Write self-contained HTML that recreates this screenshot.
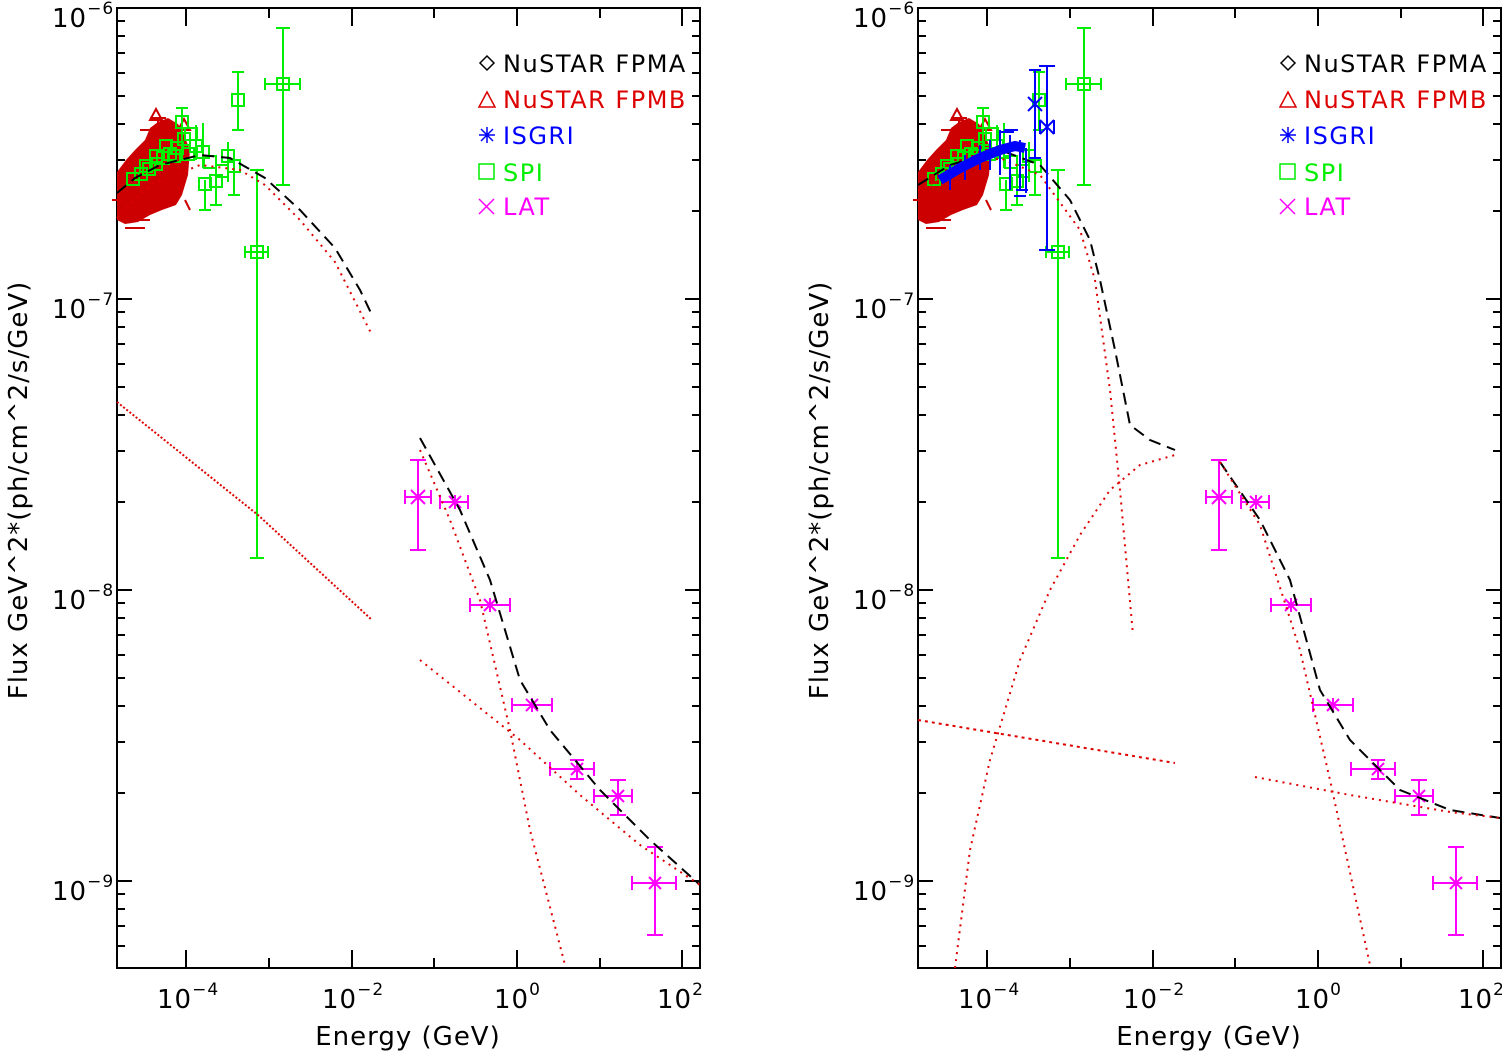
<!DOCTYPE html>
<html><head><meta charset="utf-8"><style>
body{margin:0;background:#fff;}
svg{display:block;font-family:"DejaVu Sans","Liberation Sans",sans-serif;}
</style></head><body>
<svg width="1502" height="1052" viewBox="0 0 1502 1052" xmlns="http://www.w3.org/2000/svg">
<defs>
<g id="axes">
<rect x="117" y="8" width="583" height="960" fill="none" stroke="#000" stroke-width="2"/>
<g stroke="#000" stroke-width="2">
<path d="M117 8h15M117 299h15M117 590h15M117 881h15M700 8h-15M700 299h-15M700 590h-15M700 881h-15"/>
<path d="M117 21h8M117 36h8M117 53h8M117 73h8M117 96h8M117 124h8M117 160h8M117 211h8M117 312h8M117 327h8M117 344h8M117 364h8M117 387h8M117 415h8M117 451h8M117 502h8M117 603h8M117 618h8M117 635h8M117 655h8M117 678h8M117 706h8M117 742h8M117 793h8M117 894h8M117 909h8M117 926h8M117 946h8"/>
<path d="M700 21h-8M700 36h-8M700 53h-8M700 73h-8M700 96h-8M700 124h-8M700 160h-8M700 211h-8M700 312h-8M700 327h-8M700 344h-8M700 364h-8M700 387h-8M700 415h-8M700 451h-8M700 502h-8M700 603h-8M700 618h-8M700 635h-8M700 655h-8M700 678h-8M700 706h-8M700 742h-8M700 793h-8M700 894h-8M700 909h-8M700 926h-8M700 946h-8"/>
<path d="M186 968v-18M352 968v-18M517 968v-18M682 968v-18M269 968v-10M434 968v-10M600 968v-10"/>
<path d="M186 8v18M352 8v18M517 8v18M682 8v18M269 8v10M434 8v10M600 8v10"/>
</g>
<g font-size="26" fill="#000" letter-spacing="1">
<text x="52" y="27">10<tspan font-size="17" dy="-13">−6</tspan></text>
<text x="52" y="318">10<tspan font-size="17" dy="-13">−7</tspan></text>
<text x="52" y="609">10<tspan font-size="17" dy="-13">−8</tspan></text>
<text x="52" y="900">10<tspan font-size="17" dy="-13">−9</tspan></text>
<text x="157" y="1008">10<tspan font-size="17" dy="-13">−4</tspan></text>
<text x="322" y="1008">10<tspan font-size="17" dy="-13">−2</tspan></text>
<text x="494" y="1008">10<tspan font-size="17" dy="-13">0</tspan></text>
<text x="657" y="1008">10<tspan font-size="17" dy="-13">2</tspan></text>
<text x="408" y="1045" text-anchor="middle">Energy (GeV)</text>
<text transform="translate(27,490) rotate(-90)" text-anchor="middle">Flux  GeV^2*(ph/cm^2/s/GeV)</text>
</g>
<g font-size="24" letter-spacing="1.5">
<path d="M480 63l7-7 7 7-7 7z" fill="none" stroke="#000" stroke-width="1.5"/>
<text x="503" y="72" fill="#000">NuSTAR  FPMA</text>
<path d="M479 107l8-15 8 15z" fill="none" stroke="#d00" stroke-width="1.5"/>
<text x="503" y="108" fill="#d00">NuSTAR  FPMB</text>
<path d="M487 127v16M479 135h16M481 129l12 12M493 129l-12 12" stroke="#00f" stroke-width="1.5"/>
<text x="503" y="144" fill="#00f">ISGRI</text>
<rect x="479" y="164" width="15" height="15" fill="none" stroke="#0e0" stroke-width="1.5"/>
<text x="503" y="181" fill="#0e0">SPI</text>
<path d="M479 199l15 15M494 199l-15 15" stroke="#f0f" stroke-width="1.5"/>
<text x="503" y="215" fill="#f0f">LAT</text>
</g>
<path d="M117 172L126 160L135 150L145 140L150 128L158 122L168 118L178 124L184 135L190 150L188 175L182 195L176 205L162 210L150 215L138 222L125 224L117 220Z" fill="#c00"/>
<g stroke="#c00" stroke-width="2" fill="none">
<path d="M158 118v30M150 118h16M120 220h30M125 228h20M168 140v50M160 190h16M140 130h28M170 175l5-10 5 10zM178 130l6-11 6 11zM155 135l6-11 6 11zM150 120l6-11 6 11zM112 200h10M185 200l5 10"/>
</g>
<g stroke="#f0f" stroke-width="2" fill="none">
<path d="M418 460v90M410 460h16M410 550h16M405 497h26M405 490v14M431 490v14M411 490l14 14M425 490l-14 14"/>
<path d="M455 495v14M440 502h28M440 495v14M468 495v14M449 496l12 12M461 496l-12 12"/>
<path d="M490 598v14M470 605h40M470 598v14M510 598v14M484 599l12 12M496 599l-12 12"/>
<path d="M532 698v14M512 705h40M512 698v14M552 698v14M526 699l12 12M538 699l-12 12"/>
<path d="M577 760v19M550 769h44M550 762v14M594 762v14M571 763l12 12M583 763l-12 12M570 760h14M570 779h14"/>
<path d="M618 780v35M594 796h38M594 789v14M632 789v14M612 790l12 12M624 790l-12 12M610 780h16M610 815h16"/>
<path d="M655 847v88M632 883h44M632 876v14M676 876v14M649 877l12 12M661 877l-12 12M647 847h16M647 935h16"/>
</g>
<g stroke="#0e0" stroke-width="2" fill="none">
<path d="M127 173h12v12h-12zM135 168h12v12h-12zM143 163h12v12h-12zM150 158h12v12h-12zM157 152h12v12h-12zM164 148h12v12h-12zM171 142h12v12h-12zM178 133h12v12h-12zM176 116h12v12h-12zM185 128h12v12h-12zM190 140h12v12h-12zM197 146h12v12h-12zM204 156h12v12h-12zM199 178h12v12h-12zM210 175h12v12h-12zM216 165h12v12h-12zM222 150h12v12h-12zM228 160h12v12h-12zM140 160h12v12h-12zM160 140h12v12h-12zM168 150h12v12h-12zM182 148h12v12h-12zM150 150h12v12h-12z"/>
<path d="M182 108v40M176 108h12M196 125v35M203 123v45M205 180v30M199 210h12M216 160v45M210 205h12M228 142v40M234 160v35M228 195h12M238 72v58M232 72h12M232 130h12M232 94h12v12h-12zM283 28v157M276 28h14M276 185h14M265 84h35M265 78v12M300 78v12M277 78h12v12h-12zM257 170v388M250 170h14M250 558h14M245 252h23M245 246v12M268 246v12M251 246h12v12h-12z"/>
</g>
</g>
</defs>

<use href="#axes"/>
<use href="#axes" transform="translate(801,0)"/>

<g fill="none" stroke-width="2">
<path d="M117 193L135 178L160 165L200 155L230 158L265 178L300 210L335 248L360 290L372 315" stroke="#000" stroke-dasharray="12,7"/>
<path d="M117 218L150 185L200 165L240 170L265 185L300 220L335 262L372 335" stroke="#d00" stroke-dasharray="2,5"/>
<path d="M117 402L258 515L372 620" stroke="#d00" stroke-dasharray="2,2"/>
<path d="M420 438L460 510L490 580L520 680L550 730L600 790L650 840L700 885" stroke="#000" stroke-dasharray="12,7"/>
<path d="M420 450L450 520L480 600L510 730L530 830L565 965" stroke="#d00" stroke-dasharray="2,5"/>
<path d="M420 660L470 700L520 740L580 795L640 845L700 885" stroke="#d00" stroke-dasharray="2,5"/>
</g>

<g fill="none" stroke-width="2">
<path d="M918 185L950 165L1000 150L1040 165L1070 200L1090 240L1100 280L1115 350L1130 425L1150 440L1175 450" stroke="#000" stroke-dasharray="12,7"/>
<path d="M918 190L960 170L1000 158L1040 175L1080 230L1095 280L1110 390L1120 490L1133 635" stroke="#d00" stroke-dasharray="2,5"/>
<path d="M955 968L970 850L990 760L1020 660L1050 590L1080 535L1110 490L1140 465L1175 455" stroke="#d00" stroke-dasharray="2,5"/>
<path d="M918 720L1175 763" stroke="#d00" stroke-dasharray="3,4"/>
<path d="M1220 462L1260 520L1290 580L1320 690L1350 740L1400 790L1450 810L1500 818" stroke="#000" stroke-dasharray="12,7"/>
<path d="M1220 462L1260 525L1300 650L1330 780L1370 965" stroke="#d00" stroke-dasharray="2,5"/>
<path d="M1255 777L1350 795L1450 812L1500 818" stroke="#d00" stroke-dasharray="2,5"/>
</g>

<g stroke="#00f" stroke-width="2" fill="none">
<path d="M940 180L960 168L980 158L1000 150L1015 146L1025 148" stroke-width="10"/>
<path d="M950 165v25M965 155v25M980 145v25M990 140v30M1000 130v45M1010 135v55M1020 140v50M1026 148v45M1016 190h12M1004 130h14M1014 196h12M1035 70v88M1029 70h12M1029 158h12M1028 97l14 14M1042 97l-14 14M1035 95v18M1047 66v184M1039 66h16M1039 250h16M1040 120l14 14M1054 120l-14 14M1040 120v14M1054 120v14M1000 132h14"/>
</g>
</svg>
</body></html>
